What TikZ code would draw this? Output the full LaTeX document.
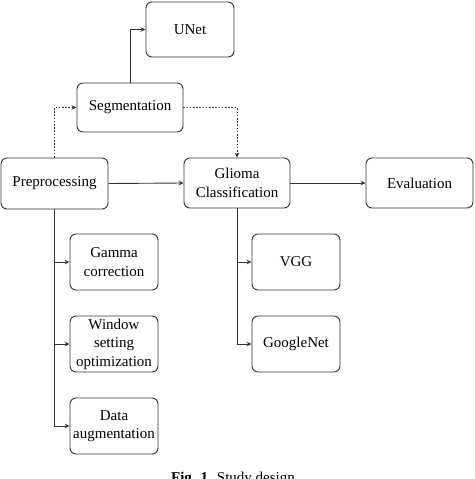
\documentclass[tikz,border=0pt]{standalone}
\usepackage{fontspec}
\setmainfont{Liberation Serif}
\usetikzlibrary{arrows.meta}
\begin{document}
\begin{tikzpicture}[x=1pt,y=-1pt,
  box/.style={draw=black!80, line width=0.9pt, rounded corners=6pt, align=center, inner sep=0pt,
    font=\fontsize{15}{18.5}\selectfont},
  arr/.style={draw=black!80, line width=0.9pt, -{Stealth[length=5pt,width=4.5pt]}},
  darr/.style={arr, dash pattern=on 1.6pt off 1.6pt}]
\useasboundingbox (0,0) rectangle (474,479);
\node[box, minimum width=88pt, minimum height=55pt] (unet) at (190,29.5) {UNet};
\node[box, minimum width=106pt, minimum height=49pt] (seg) at (130,107.5) {Segmentation};
\node[box, minimum width=107pt, minimum height=51pt] (pre) at (54.5,183.5) {Preprocessing};
\node[box, minimum width=106pt, minimum height=50pt] (gli) at (237,183) {Glioma\\Classification};
\node[box, minimum width=107pt, minimum height=50pt] (eva) at (419.5,183) {Evaluation};
\node[box, minimum width=88pt, minimum height=56pt] (gam) at (114,262) {Gamma\\correction};
\node[box, minimum width=88pt, minimum height=56pt] (win) at (114,344) {Window\\setting\\optimization};
\node[box, minimum width=88pt, minimum height=56pt] (dat) at (114,426) {Data\\augmentation};
\node[box, minimum width=88pt, minimum height=56pt] (vgg) at (296,262) {VGG};
\node[box, minimum width=88pt, minimum height=56pt] (goo) at (296,344) {GoogleNet};
\node[anchor=base, font=\fontsize{15}{18}\selectfont] (cap) at (233,482) {\textbf{Fig. 1.} Study design};
\draw[arr] (seg.north) |- (unet.west);
\draw[darr] (pre.north) |- (seg.west);
\draw[darr] (seg.east) -| (gli.north);
\draw[arr] (pre.east) -- (gli.west);
\draw[arr] (gli.east) -- (eva.west);
\draw[arr] (pre.south) |- (gam.west);
\draw[arr] (pre.south) |- (win.west);
\draw[arr] (pre.south) |- (dat.west);
\draw[arr] (gli.south) |- (vgg.west);
\draw[arr] (gli.south) |- (goo.west);
\end{tikzpicture}
\end{document}
